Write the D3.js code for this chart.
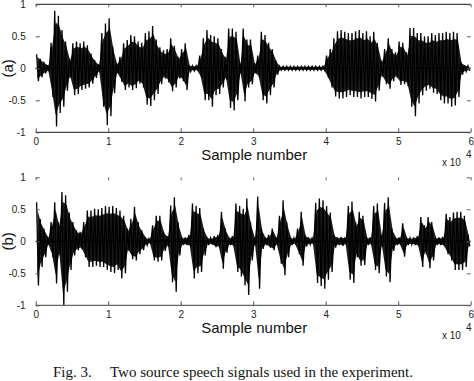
<!DOCTYPE html>
<html>
<head>
<meta charset="utf-8">
<script src="https://cdn.jsdelivr.net/npm/d3@7"></script>
<style>
  html, body { margin: 0; padding: 0; background: #fff; }
  svg { display: block; }
</style>
</head>
<body>
<svg id="chart" width="474" height="381"></svg>
<script>
// ---- data: envelope of each speech signal, one value pair per 500-sample bin ----
const binSize = 500;
const xTicks = [0, 10000, 20000, 30000, 40000, 50000, 60000];
const xTickLabels = ["0", "1", "2", "3", "4", "5", "6"];
const yTicks = [-1, -0.5, 0, 0.5, 1];
const yTickLabels = ["-1", "-0.5", "0", "0.5", "1"];
const panelLabels = ["(a)", "(b)"];
const xLabel = "Sample number";
const caption1 = "Fig. 3.";
const caption2 = "Two source speech signals used in the experiment.";

const sigAMax = [0.22,0.15,0.10,0.05,0.40,0.90,0.82,0.60,0.42,0.15,
  0.39,0.42,0.39,0.42,0.36,0.23,0.13,0.06,0.55,0.70,
  0.78,0.34,0.08,0.18,0.39,0.44,0.52,0.50,0.42,0.40,
  0.55,0.58,0.66,0.45,0.33,0.28,0.30,0.47,0.35,0.18,
  0.30,0.39,0.05,0.04,0.04,0.20,0.47,0.60,0.52,0.50,
  0.47,0.30,0.18,0.62,0.62,0.57,0.08,0.62,0.45,0.45,
  0.08,0.20,0.57,0.52,0.40,0.30,0.12,0.03,0.03,0.03,
  0.03,0.03,0.03,0.03,0.03,0.03,0.03,0.03,0.03,0.03,
  0.20,0.30,0.47,0.58,0.60,0.57,0.55,0.55,0.58,0.60,
  0.55,0.58,0.50,0.57,0.40,0.12,0.30,0.47,0.30,0.25,
  0.42,0.40,0.25,0.63,0.63,0.55,0.55,0.50,0.50,0.55,
  0.52,0.55,0.55,0.57,0.55,0.57,0.55,0.10,0.05,0.04];
const sigAMin = [-0.20,-0.14,-0.08,-0.05,-0.45,-0.91,-0.70,-0.60,-0.35,-0.15,
  -0.42,-0.40,-0.34,-0.32,-0.30,-0.24,-0.15,-0.06,-0.60,-0.89,
  -0.75,-0.39,-0.08,-0.21,-0.34,-0.30,-0.34,-0.31,-0.24,-0.30,
  -0.57,-0.59,-0.50,-0.40,-0.25,-0.16,-0.22,-0.36,-0.30,-0.16,
  -0.20,-0.34,-0.05,-0.04,-0.04,-0.15,-0.50,-0.50,-0.60,-0.42,
  -0.40,-0.30,-0.18,-0.62,-0.66,-0.50,-0.08,-0.52,-0.30,-0.25,
  -0.08,-0.15,-0.50,-0.55,-0.42,-0.30,-0.10,-0.03,-0.03,-0.03,
  -0.03,-0.03,-0.03,-0.03,-0.03,-0.03,-0.03,-0.03,-0.03,-0.03,
  -0.15,-0.30,-0.44,-0.47,-0.47,-0.45,-0.42,-0.45,-0.45,-0.47,
  -0.45,-0.45,-0.48,-0.52,-0.35,-0.13,-0.25,-0.32,-0.20,-0.15,
  -0.26,-0.25,-0.28,-0.60,-0.75,-0.55,-0.42,-0.35,-0.32,-0.38,
  -0.40,-0.50,-0.55,-0.55,-0.60,-0.58,-0.45,-0.10,-0.05,-0.04];

const sigBMax = [0.61,0.35,0.20,0.07,0.30,0.61,0.30,0.77,0.72,0.45,
  0.30,0.17,0.15,0.30,0.48,0.48,0.51,0.50,0.52,0.55,
  0.54,0.55,0.52,0.48,0.40,0.20,0.35,0.54,0.30,0.17,
  0.06,0.04,0.25,0.40,0.40,0.15,0.08,0.56,0.69,0.30,
  0.06,0.06,0.10,0.59,0.55,0.52,0.20,0.06,0.05,0.08,
  0.10,0.46,0.20,0.06,0.08,0.59,0.55,0.51,0.67,0.30,
  0.06,0.70,0.20,0.06,0.10,0.20,0.06,0.40,0.64,0.30,
  0.06,0.05,0.20,0.46,0.10,0.06,0.05,0.60,0.67,0.64,
  0.55,0.45,0.10,0.06,0.07,0.06,0.55,0.62,0.30,0.46,
  0.40,0.06,0.06,0.55,0.59,0.10,0.60,0.69,0.20,0.06,
  0.06,0.28,0.06,0.05,0.06,0.08,0.38,0.25,0.38,0.30,
  0.06,0.06,0.07,0.43,0.38,0.45,0.46,0.46,0.40,0.10];
const sigBMin = [-0.69,-0.40,-0.25,-0.06,-0.25,-0.66,-0.22,-1.00,-0.79,-0.45,
  -0.22,-0.14,-0.12,-0.25,-0.40,-0.40,-0.38,-0.40,-0.40,-0.45,
  -0.48,-0.50,-0.45,-0.58,-0.50,-0.15,-0.28,-0.30,-0.20,-0.14,
  -0.06,-0.04,-0.30,-0.32,-0.30,-0.15,-0.08,-0.64,-0.79,-0.22,
  -0.06,-0.06,-0.08,-0.58,-0.50,-0.48,-0.22,-0.06,-0.05,-0.09,
  -0.10,-0.43,-0.18,-0.06,-0.08,-0.48,-0.55,-0.69,-0.84,-0.30,
  -0.06,-0.74,-0.12,-0.06,-0.10,-0.14,-0.06,-0.35,-0.53,-0.25,
  -0.06,-0.05,-0.20,-0.38,-0.08,-0.05,-0.05,-0.65,-0.70,-0.74,
  -0.60,-0.48,-0.10,-0.06,-0.07,-0.06,-0.60,-0.65,-0.25,-0.38,
  -0.37,-0.06,-0.06,-0.45,-0.50,-0.08,-0.55,-0.64,-0.15,-0.06,
  -0.06,-0.24,-0.06,-0.05,-0.06,-0.08,-0.40,-0.20,-0.42,-0.30,
  -0.06,-0.06,-0.07,-0.20,-0.30,-0.45,-0.45,-0.45,-0.40,-0.08];

// ---- drawing ----
const svg = d3.select("#chart");
const sans = "'Liberation Sans', Arial, Helvetica, sans-serif";
const serif = "'Liberation Serif', 'Times New Roman', serif";

const x = d3.scaleLinear().domain([0, 60000]).range([35.7, 470.7]);

const panels = [
  { maxs: sigAMax, mins: sigAMin, top: 4.3, bottom: 132.3, label: panelLabels[0], topLine: true, lineColor: "#444" },
  { maxs: sigBMax, mins: sigBMin, top: 177.3, bottom: 305.3, label: panelLabels[1], topLine: false, lineColor: "#666" }
];

panels.forEach(p => {
  const y = d3.scaleLinear().domain([-1, 1]).range([p.bottom, p.top]);
  const g = svg.append("g");

  // inner body of the envelope (dark) drawn through bin centres
  const area = d3.area()
    .x((d, i) => x(i * binSize + binSize / 2))
    .y0((d, i) => y(p.mins[i] * 0.8))
    .y1(d => y(d * 0.8))
    .curve(d3.curveLinear);
  g.append("path").datum(p.maxs).attr("d", area).attr("fill", "#1c1c1c");

  // zig-zag strokes reaching the bin extremes
  const pts = [];
  p.maxs.forEach((m, i) => {
    pts.push([x(i * binSize + binSize * 0.25), y(m)]);
    pts.push([x(i * binSize + binSize * 0.75), y(p.mins[i])]);
  });
  g.append("path").attr("d", d3.line()(pts))
    .attr("fill", "none").attr("stroke", "#000").attr("stroke-width", 1.3);

  // zero line
  g.append("line").attr("x1", x(0)).attr("x2", x(60000))
    .attr("y1", y(0)).attr("y2", y(0)).attr("stroke", "#000").attr("stroke-width", 1.2);

  // frame lines
  g.append("line").attr("x1", x(0)).attr("x2", x(60000))
    .attr("y1", p.bottom).attr("y2", p.bottom)
    .attr("stroke", p.lineColor).attr("stroke-width", 1.3);
  if (p.topLine) {
    g.append("line").attr("x1", x(0)).attr("x2", x(60000))
      .attr("y1", p.top).attr("y2", p.top)
      .attr("stroke", p.lineColor).attr("stroke-width", 1.3);
  }

  // x axis (bottom, ticks inward) and top ticks
  const xAxis = d3.axisBottom(x).tickValues(xTicks)
    .tickFormat((d, i) => xTickLabels[i]).tickSizeInner(-4).tickSizeOuter(0).tickPadding(6);
  const gx = g.append("g").attr("transform", `translate(0,${p.bottom})`).call(xAxis);
  gx.select(".domain").remove();
  gx.selectAll(".tick line").attr("stroke", "#555");
  gx.selectAll(".tick text").attr("font-family", sans).attr("font-size", 10).attr("fill", "#222")
    .attr("dy", "0.71em");

  const xTop = d3.axisTop(x).tickValues(xTicks).tickFormat("").tickSizeInner(-3).tickSizeOuter(0);
  const gxt = g.append("g").attr("transform", `translate(0,${p.top})`).call(xTop);
  gxt.select(".domain").remove();
  gxt.selectAll(".tick line").attr("stroke", "#666");

  // y axis (left, ticks inward, no line) and right ticks
  const yAxis = d3.axisLeft(y).tickValues(yTicks)
    .tickFormat((d, i) => yTickLabels[i]).tickSizeInner(-4).tickSizeOuter(0).tickPadding(10);
  const gy = g.append("g").attr("transform", `translate(${x(0)},0)`).call(yAxis);
  gy.select(".domain").remove();
  gy.selectAll(".tick line").attr("stroke", "#555");
  gy.selectAll(".tick text").attr("font-family", sans).attr("font-size", 10).attr("fill", "#222");

  const yRight = d3.axisRight(y).tickValues(yTicks).tickFormat("").tickSizeInner(-4).tickSizeOuter(0);
  const gyr = g.append("g").attr("transform", `translate(${x(60000)},0)`).call(yRight);
  gyr.select(".domain").remove();
  gyr.selectAll(".tick line").attr("stroke", "#666");

  // axis title
  g.append("text").attr("x", 254.2).attr("y", p.bottom + 27.7)
    .attr("text-anchor", "middle").attr("font-family", sans).attr("font-size", 15)
    .attr("fill", "#111").text(xLabel);

  // exponent label
  const ex = g.append("text").attr("x", 442).attr("y", p.bottom + 34)
    .attr("font-family", sans).attr("font-size", 10).attr("fill", "#222");
  ex.append("tspan").text("x 10");
  ex.append("tspan").attr("x", 466).attr("dy", -8.5).text("4");

  // panel label
  g.append("text")
    .attr("transform", `translate(12.5,${y(0)}) rotate(-90)`)
    .attr("text-anchor", "middle").attr("font-family", sans).attr("font-size", 15)
    .attr("fill", "#111").text(p.label);
});

// caption
svg.append("text").attr("x", 53).attr("y", 377)
  .attr("font-family", serif).attr("font-size", 15).attr("fill", "#111").text(caption1);
svg.append("text").attr("x", 110).attr("y", 377)
  .attr("font-family", serif).attr("font-size", 15).attr("fill", "#111").text(caption2);
</script>
</body>
</html>
